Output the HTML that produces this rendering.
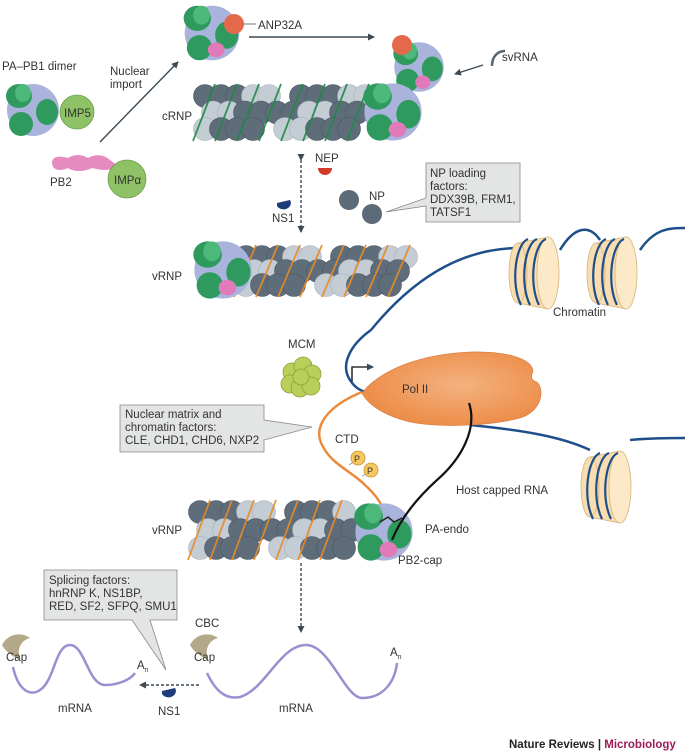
<!DOCTYPE html>
<html><head><meta charset="utf-8"><style>
html,body{margin:0;padding:0;background:#fff;}
svg{display:block;}
text{font-family:"Liberation Sans",sans-serif;font-size:11.5px;fill:#333;}
</style></head><body>
<svg id="s" width="685" height="753" viewBox="0 0 685 753" xmlns="http://www.w3.org/2000/svg">
<defs>
<marker id="ah" markerWidth="8" markerHeight="8" refX="6" refY="4" orient="auto" markerUnits="userSpaceOnUse"><path d="M0,0.5 L7,4 L0,7.5 Z" fill="#3b4a55"/></marker>
<radialGradient id="pol" cx="0.55" cy="0.45" r="0.6"><stop offset="0" stop-color="#f4b27f"/><stop offset="1" stop-color="#ec8a45"/></radialGradient>
</defs>
<g id="chains"></g>

<!-- Chromatin upper -->
<path d="M371,330 C420,270 470,248 520,248" fill="none" stroke="#1f4f8a" stroke-width="2.5"/>
<path d="M560,250 C575,225 590,225 600,240" fill="none" stroke="#1f4f8a" stroke-width="2.5"/>
<path d="M640,250 C655,228 670,228 685,228" fill="none" stroke="#1f4f8a" stroke-width="2.5"/>
<g id="nuc"></g>
<text x="553" y="316">Chromatin</text>

<!-- Blue line into Pol II -->
<path d="M371,330 C350,345 340,365 350,380 C355,388 362,392 368,392" fill="none" stroke="#1f4f8a" stroke-width="2.5"/>
<path d="M352,382 L352,367 L373,367" fill="none" stroke="#333" stroke-width="1.6" marker-end="url(#ah)"/>
<path d="M470,425 C520,430 560,436 590,450" fill="none" stroke="#1f4f8a" stroke-width="2.5"/>
<path d="M630,440 C650,438 670,438 685,438" fill="none" stroke="#1f4f8a" stroke-width="2.5"/>

<!-- Pol II -->
<path d="M362,393 C380,370 420,354 470,352 C505,351 533,358 533,372 C530,377 532,381 537,382 C546,392 540,412 520,418 C490,426 440,428 410,422 C385,416 368,405 362,393 Z" fill="url(#pol)" stroke="#d27a3a" stroke-width="0.6"/>
<text x="402" y="393">Pol II</text>

<!-- MCM -->
<g fill="#b9cf5a" stroke="#8aa23a" stroke-width="0.8">
<circle cx="292" cy="372" r="9"/><circle cx="303" cy="366" r="9"/><circle cx="312" cy="374" r="9"/>
<circle cx="290" cy="384" r="9"/><circle cx="300" cy="388" r="9"/><circle cx="311" cy="386" r="9"/><circle cx="301" cy="377" r="8"/>
</g>
<text x="288" y="348">MCM</text>

<!-- CTD -->
<path d="M362,392 C330,405 312,425 322,445 C332,465 350,470 365,485 C378,497 382,505 384,512" fill="none" stroke="#ec8a3a" stroke-width="2.5"/>
<line x1="349" y1="465" x2="356" y2="460" stroke="#999" stroke-width="0.8"/>
<line x1="362" y1="476" x2="369" y2="472" stroke="#999" stroke-width="0.8"/>
<circle cx="358" cy="458" r="7" fill="#f8c860" stroke="#c89430" stroke-width="0.8"/><text x="354" y="462" style="font-size:9px">P</text>
<circle cx="371" cy="470" r="7" fill="#f8c860" stroke="#c89430" stroke-width="0.8"/><text x="367" y="474" style="font-size:9px">P</text>
<text x="335" y="443">CTD</text>

<!-- Callout nuclear matrix -->
<path d="M120,405 L264,405 L264,420 L312,427 L264,440 L264,452 L120,452 Z" fill="#e3e5e4" stroke="#888" stroke-width="0.8"/>
<text x="125" y="418">Nuclear matrix and</text>
<text x="125" y="431">chromatin factors:</text>
<text x="125" y="444">CLE, CHD1, CHD6, NXP2</text>

<g id="pols"></g>
<path d="M469,403 C478,430 460,460 437,480 C415,500 400,520 392,540" fill="none" stroke="#111" stroke-width="2.2"/>
<text x="456" y="494">Host capped RNA</text>
<text x="425" y="533">PA-endo</text>
<text x="398" y="564">PB2-cap</text>
<text x="152" y="534">vRNP</text>

<!-- top section -->
<text x="2" y="70">PA–PB1 dimer</text>
<circle cx="77" cy="112" r="17" fill="#8fc266" stroke="#6e9e4a" stroke-width="0.8"/>
<text x="64" y="117">IMP5</text>
<path d="M52,163 C52,155 62,156 68,158 C74,154 82,154 88,158 C94,154 104,154 110,160 L118,166 C110,172 100,170 92,168 C84,172 74,172 68,168 C60,172 52,170 52,163 Z" fill="#e58bc0"/>
<circle cx="127" cy="179" r="19" fill="#8fc266" stroke="#6e9e4a" stroke-width="0.8"/>
<text x="114" y="184">IMPα</text>
<text x="50" y="186">PB2</text>
<line x1="100" y1="142" x2="178" y2="62" stroke="#3b4a55" stroke-width="1.4" marker-end="url(#ah)"/>
<text x="110" y="75">Nuclear</text><text x="110" y="88">import</text>
<line x1="244" y1="24" x2="256" y2="24" stroke="#555" stroke-width="0.8"/>
<text x="258" y="29">ANP32A</text>
<line x1="249" y1="37" x2="374" y2="37" stroke="#3b4a55" stroke-width="1.6" marker-end="url(#ah)"/>
<path d="M492,66 C492,56 498,51 505,51" fill="none" stroke="#5a6670" stroke-width="2.5"/>
<text x="502" y="61">svRNA</text>
<line x1="483" y1="65" x2="455" y2="74" stroke="#3b4a55" stroke-width="1.4" marker-end="url(#ah)"/>
<text x="162" y="120">cRNP</text>
<text x="152" y="280">vRNP</text>

<line x1="301" y1="160" x2="301" y2="232" stroke="#3b4a55" stroke-width="1.4" stroke-dasharray="3,2" marker-start="url(#ah)" marker-end="url(#ah)"/>
<text x="315" y="162">NEP</text>
<path d="M318,168 L332,168 A7,7 0 0 1 318,168 Z" fill="#d43a2a"/>
<path d="M277,206 A7,6 0 0 0 290,200 L277,203 Z" fill="#1e3c7a"/>
<text x="272" y="222">NS1</text>
<circle cx="349" cy="200" r="10" fill="#5d6b78"/><circle cx="372" cy="214" r="10" fill="#5d6b78"/>
<text x="369" y="200">NP</text>
<path d="M426,163 L520,163 L520,222 L426,222 L426,206 L386,212 L426,198 Z" fill="#e3e5e4" stroke="#888" stroke-width="0.8"/>
<text x="430" y="177">NP loading</text>
<text x="430" y="190">factors:</text>
<text x="430" y="203">DDX39B, FRM1,</text>
<text x="430" y="216">TATSF1</text>

<!-- bottom -->
<line x1="301" y1="563" x2="301" y2="632" stroke="#3b4a55" stroke-width="1.4" stroke-dasharray="3,2" marker-end="url(#ah)"/>
<path d="M44,570 L177,570 L177,620 L150,620 L166,670 L132,620 L44,620 Z" fill="#e3e5e4" stroke="#888" stroke-width="0.8"/>
<text x="49" y="584">Splicing factors:</text>
<text x="49" y="597">hnRNP K, NS1BP,</text>
<text x="49" y="610">RED, SF2, SFPQ, SMU1</text>

<path d="M2,645 C8,633 22,632 30,638 C22,640 16,648 20,660 C12,656 6,652 2,645 Z" fill="#b3a888"/>
<text x="6" y="661">Cap</text>
<path d="M13,667 C18,690 30,697 40,690 C55,680 55,645 70,645 C85,645 88,685 105,685 C118,685 130,680 135,673" fill="none" stroke="#9a8fd0" stroke-width="2.5"/>
<text x="137" y="669">A<tspan style="font-size:7px" dy="3">n</tspan></text>
<text x="58" y="712">mRNA</text>
<line x1="199" y1="685" x2="140" y2="685" stroke="#3b4a55" stroke-width="1.4" stroke-dasharray="3,2" marker-end="url(#ah)"/>
<path d="M162,694 A7,6 0 0 0 175,688 L162,691 Z" fill="#1e3c7a"/>
<text x="158" y="715">NS1</text>
<text x="195" y="627">CBC</text>
<path d="M190,645 C196,633 210,632 218,638 C210,640 204,648 208,660 C200,656 194,652 190,645 Z" fill="#b3a888"/>
<text x="194" y="661">Cap</text>
<path d="M207,673 C215,690 225,700 240,697 C265,690 280,645 306,645 C330,645 345,698 362,698 C385,698 395,680 397,663" fill="none" stroke="#9a8fd0" stroke-width="2.5"/>
<text x="390" y="656">A<tspan style="font-size:7px" dy="3">n</tspan></text>
<text x="279" y="712">mRNA</text>

<text x="509" y="748" style="font-size:11.5px;font-weight:bold;fill:#222">Nature Reviews | <tspan style="fill:#9b1b5a">Microbiology</tspan></text>
</svg>
<script>
var NS="http://www.w3.org/2000/svg";
function el(p,t,a){var e=document.createElementNS(NS,t);for(var k in a)e.setAttribute(k,a[k]);p.appendChild(e);return e;}
var C=document.getElementById("chains");
function chain(x0,x1,y0,y1,col){
  var rows=[y0+12,(y0+y1)/2,y1-12];
  for(var r=0;r<3;r++){
    for(var x=x0+12+(r==1?8:0);x<=x1-12;x+=16){
      var ph=Math.floor((x-x0)/16+r*2)%6;
      var light=(ph==3||ph==4);
      if(r==0&&ph==5)continue;
      if(r==2&&ph==2)continue;
      el(C,"circle",{cx:x,cy:rows[r],r:11.5,fill:light?"#c4ccd4":"#5f6d7a",stroke:light?"#a8b2bc":"#4b5763","stroke-width":0.6});
    }
  }
  for(var x=x0;x<x1-30;x+=22){
    el(C,"line",{x1:x,y1:y1,x2:x+22,y2:y0,stroke:col,"stroke-width":1.8,opacity:0.9});
  }
}
chain(193,378,84,141,"#1f8a4a");
chain(234,421,245,297,"#e88a2a");
chain(188,371,500,560,"#e88a2a");
var P=document.getElementById("pols");
function pol(cx,cy,s,pink){
  var g=el(P,"g",{});
  el(g,"circle",{cx:cx,cy:cy,r:26*s,fill:"#a9b3dc"});
  el(g,"ellipse",{cx:cx-14*s,cy:cy-14*s,rx:13*s,ry:12*s,fill:"#2f9a5e"});
  el(g,"ellipse",{cx:cx-10*s,cy:cy-17*s,rx:8*s,ry:9*s,fill:"#4cb87a"});
  el(g,"ellipse",{cx:cx-12*s,cy:cy+14*s,rx:12*s,ry:12*s,fill:"#2f9a5e"});
  el(g,"ellipse",{cx:cx+14*s,cy:cy+2*s,rx:11*s,ry:13*s,fill:"#2f9a5e"});
  if(pink)el(g,"ellipse",{cx:cx+4*s,cy:cy+16*s,rx:8*s,ry:7*s,fill:"#e07ab8"});
}
pol(33,110,1,false);
pol(212,33,1.05,true);
pol(419,67,0.95,true);
pol(393,112,1.1,true);
pol(223,270,1.1,true);
pol(384,532,1.1,true);
el(P,"circle",{cx:234,cy:24,r:10,fill:"#e4684a"});
el(P,"circle",{cx:402,cy:45,r:10,fill:"#e4684a"});
el(P,"path",{d:"M380,522 l8,-5 l6,5 l8,-4",fill:"none",stroke:"#222","stroke-width":1.5});
var N=document.getElementById("nuc");
function nuc(cx,cy){
  el(N,"path",{d:"M"+(cx-22)+","+(cy-30)+" L"+(cx+8)+","+(cy-36)+" L"+(cx+8)+","+(cy+36)+" L"+(cx-22)+","+(cy+30)+" Z",fill:"#f7ddb0",stroke:"#d9b37a","stroke-width":0.8});
  el(N,"ellipse",{cx:cx-22,cy:cy,rx:9,ry:30,fill:"#f7ddb0",stroke:"#d9b37a","stroke-width":0.8});
  el(N,"ellipse",{cx:cx+8,cy:cy,rx:11,ry:36,fill:"#fbe9c8",stroke:"#d9b37a","stroke-width":0.8});
  for(var k=0;k<3;k++){
    var xx=cx-14+k*9;
    el(N,"path",{d:"M"+(xx-5)+","+(cy+32)+" C"+(xx-16)+","+(cy+10)+" "+(xx-10)+","+(cy-30)+" "+(xx+2)+","+(cy-34),fill:"none",stroke:"#1f4f8a","stroke-width":2.2});
  }
}
nuc(540,273);nuc(618,273);nuc(612,487);
</script>
</body></html>
